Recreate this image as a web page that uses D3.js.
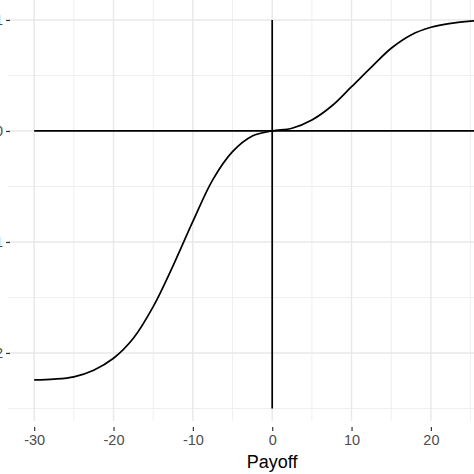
<!DOCTYPE html>
<html>
<head>
<meta charset="utf-8">
<script src="https://cdn.jsdelivr.net/npm/d3@7"></script>
<style>
  body { margin: 0; background: #fff; }
  svg { display: block; font-family: "Liberation Sans", Arial, sans-serif; }
</style>
</head>
<body>
<div id="chart"></div>
<script>
// curve values
var payoff = [-30, -27.5, -25, -22.5, -20, -17.5, -15, -12.5, -10, -7.5, -5, -2.5, 0,
              2.5, 5, 7.5, 10, 12.5, 15, 17.5, 20, 22.5, 25, 27.5, 30];
var value = [-2.243, -2.236, -2.215, -2.155, -2.048, -1.868, -1.583, -1.215, -0.815, -0.44, -0.186, -0.045, 0,
             0.025, 0.099, 0.225, 0.399, 0.575, 0.745, 0.865, 0.934, 0.97, 0.99, 0.998, 1.0];

var xTicks = [-30, -20, -10, 0, 10, 20, 30];
var xMinor = [-25, -15, -5, 5, 15, 25];
var yTicks = [-2, -1, 0, 1];
var yMinor = [-2.5, -1.5, -0.5, 0.5];

var svgWidth = 474;
var svgHeight = 474;

// panel is cut at the top and right edges of the picture
var panel = { left: 8, right: 538, top: 0, bottom: 421 };

var svg = d3.select("#chart")
    .append("svg")
    .attr("width", svgWidth)
    .attr("height", svgHeight);

var xScale = d3.scaleLinear()
    .domain([-33.3, 33.5])
    .range([panel.left, panel.right]);

var yScale = d3.scaleLinear()
    .domain([-2.613, 1.18])
    .range([panel.bottom, panel.top]);

// grid lines
var grid = svg.append("g");

grid.selectAll(".hminor")
    .data(yMinor)
    .enter()
    .append("line")
    .attr("x1", panel.left)
    .attr("x2", panel.right)
    .attr("y1", d => yScale(d))
    .attr("y2", d => yScale(d))
    .attr("stroke", "#efefef")
    .attr("stroke-width", 1);

grid.selectAll(".vminor")
    .data(xMinor)
    .enter()
    .append("line")
    .attr("x1", d => xScale(d))
    .attr("x2", d => xScale(d))
    .attr("y1", panel.top)
    .attr("y2", panel.bottom)
    .attr("stroke", "#efefef")
    .attr("stroke-width", 1);

grid.selectAll(".hmajor")
    .data(yTicks)
    .enter()
    .append("line")
    .attr("x1", panel.left)
    .attr("x2", panel.right)
    .attr("y1", d => yScale(d))
    .attr("y2", d => yScale(d))
    .attr("stroke", "#e8e8e8")
    .attr("stroke-width", 1.4);

grid.selectAll(".vmajor")
    .data(xTicks)
    .enter()
    .append("line")
    .attr("x1", d => xScale(d))
    .attr("x2", d => xScale(d))
    .attr("y1", panel.top)
    .attr("y2", panel.bottom)
    .attr("stroke", "#e8e8e8")
    .attr("stroke-width", 1.4);

// reference lines at zero
svg.append("line")
    .attr("x1", xScale(-30))
    .attr("x2", panel.right)
    .attr("y1", yScale(0))
    .attr("y2", yScale(0))
    .attr("stroke", "#000")
    .attr("stroke-width", 1.7);

svg.append("line")
    .attr("x1", xScale(0))
    .attr("x2", xScale(0))
    .attr("y1", yScale(1))
    .attr("y2", yScale(-2.5))
    .attr("stroke", "#000")
    .attr("stroke-width", 1.7);

// the curve
var points = payoff.map((p, i) => [p, value[i]]);

var line = d3.line()
    .x(d => xScale(d[0]))
    .y(d => yScale(d[1]))
    .curve(d3.curveCatmullRom.alpha(0.5));

svg.append("path")
    .datum(points)
    .attr("d", line)
    .attr("fill", "none")
    .attr("stroke", "#000")
    .attr("stroke-width", 1.7);

// X-axis
var xAxis = d3.axisBottom(xScale)
    .tickValues(xTicks)
    .tickSize(4)
    .tickPadding(4)
    .tickFormat(d => String(d));

var gx = svg.append("g")
    .attr("transform", "translate(0," + (panel.bottom + 6) + ")")
    .call(xAxis);
gx.select(".domain").remove();
gx.selectAll(".tick line").attr("stroke", "#333").attr("stroke-width", 1.2);
gx.selectAll(".tick text")
    .attr("fill", "#4d4d4d")
    .style("font-size", "14.5px")
    .style("font-family", "Liberation Sans, Arial, sans-serif");

svg.append("text")
    .attr("x", xScale(0))
    .attr("y", 468)
    .attr("text-anchor", "middle")
    .style("font-size", "18px")
    .attr("fill", "#000")
    .text("Payoff");

// Y-axis (labels fall off the left edge)
var yAxis = d3.axisLeft(yScale)
    .tickValues(yTicks)
    .tickSize(4)
    .tickPadding(3)
    .tickFormat(d => String(d));

var gy = svg.append("g")
    .attr("transform", "translate(" + (panel.left + 2) + ",0)")
    .call(yAxis);
gy.select(".domain").remove();
gy.selectAll(".tick line").attr("stroke", "#333").attr("stroke-width", 1.2);
gy.selectAll(".tick text")
    .attr("fill", "#4d4d4d")
    .style("font-size", "14.5px")
    .style("font-family", "Liberation Sans, Arial, sans-serif");
</script>
</body>
</html>
